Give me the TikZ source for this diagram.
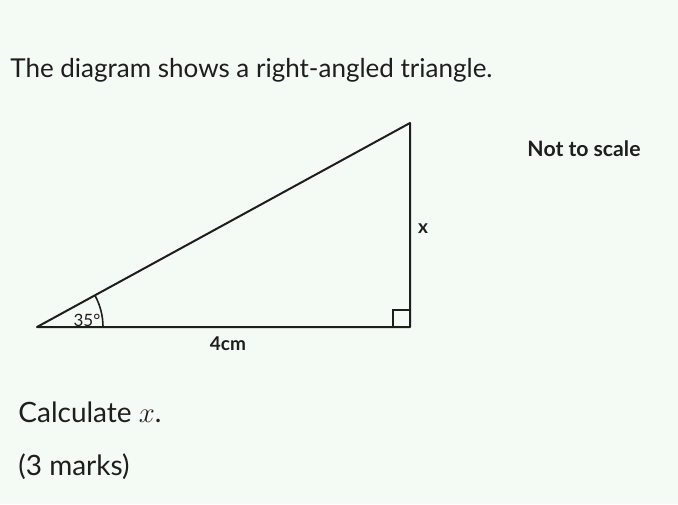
\documentclass[tikz,border=0pt]{standalone}
\usepackage{fontspec}
\setmainfont{Lato}
\usepackage{tikz}
\usetikzlibrary{positioning,calc}
\definecolor{paperwhite}{RGB}{244,250,244}
\definecolor{inkgrey}{RGB}{30,30,30}

\tikzset{
    side/.style={draw=inkgrey, line width=1pt},
    smalllabel/.style={font=\bfseries\fontsize{9.5}{11}\selectfont, text=inkgrey, inner sep=1pt},
    textline/.style={anchor=west, font=\fontsize{14}{16}\selectfont, text=inkgrey, inner sep=0pt}
}

\begin{document}
\begin{tikzpicture}[x=0.5pt, y=-0.5pt]
    \useasboundingbox[fill=paperwhite] (0,0) rectangle (678,504);
    % Question text
    \node[textline, font=\fontsize{13}{15}\selectfont] (intro) at (10,70) {The diagram shows a right-angled triangle.};
    \node[textline] (task) at (18,412) {Calculate $x$.};
    \node[textline] (marks) at (18,467) {(3 marks)};
    \node[font=\bfseries\fontsize{10.6}{12}\selectfont, text=inkgrey] (note) at (584,149) {Not to scale};
    % Triangle vertices
    \coordinate (A) at (37,327);
    \coordinate (B) at (410,327);
    \coordinate (C) at (410,123);
    \draw[side, line join=round] (A) -- (B) -- (C) -- cycle;
    % Right angle and angle marks
    \draw[line width=0.8pt, draw=inkgrey] ($(B)+(-17,0)$) -- ++(0,-17) -- ++(17,0);
    \draw[line width=0.8pt, draw=inkgrey] ($(A)+(66,0)$) arc[start angle=0, end angle=28.7, radius=33pt];
    % Labels
    \node[smalllabel, font=\fontsize{8.5}{10}\selectfont] (angle) at (87,320) {35°};
    \node[smalllabel] (base) at (228,344) {4cm};
    \node[smalllabel] (height) at (423,229) {x};
\end{tikzpicture}
\end{document}
